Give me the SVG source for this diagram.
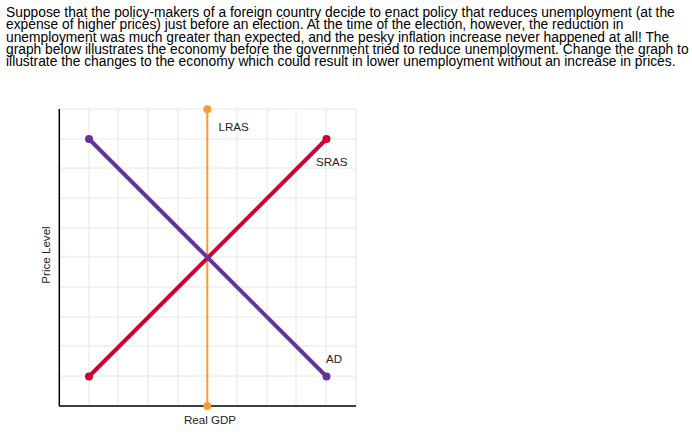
<svg xmlns="http://www.w3.org/2000/svg" width="692" height="448" viewBox="0 0 692 448">
<style>
.q{font-family:"Liberation Sans",Arial,sans-serif;font-size:13.8px;fill:#000}
.lbl{font-family:"Liberation Sans",Arial,sans-serif;font-size:11.6px;fill:#222}
.grid line{stroke:#e6e6e6;stroke-width:1}
.ax{stroke:#000;stroke-width:1.5}
</style>
<rect width="692" height="448" fill="#fff"/>
<g id="question">
<text class="q" x="6" y="17">Suppose that the policy-makers of a foreign country decide to enact policy that reduces unemployment (at the</text>
<text class="q" x="6" y="29">expense of higher prices) just before an election. At the time of the election, however, the reduction in</text>
<text class="q" x="6" y="41.5">unemployment was much greater than expected, and the pesky inflation increase never happened at all! The</text>
<text class="q" x="6" y="54">graph below illustrates the economy before the government tried to reduce unemployment. Change the graph to</text>
<text class="q" x="6" y="66">illustrate the changes to the economy which could result in lower unemployment without an increase in prices.</text>
</g>
<g id="grid" class="grid">
<line x1="89" y1="109" x2="89" y2="406"/><line x1="118" y1="109" x2="118" y2="406"/><line x1="148" y1="109" x2="148" y2="406"/><line x1="178" y1="109" x2="178" y2="406"/><line x1="207" y1="109" x2="207" y2="406"/><line x1="237" y1="109" x2="237" y2="406"/><line x1="267" y1="109" x2="267" y2="406"/><line x1="296" y1="109" x2="296" y2="406"/><line x1="326" y1="109" x2="326" y2="406"/><line x1="356" y1="109" x2="356" y2="406"/>
<line x1="59" y1="109" x2="356" y2="109"/><line x1="59" y1="139" x2="356" y2="139"/><line x1="59" y1="168" x2="356" y2="168"/><line x1="59" y1="198" x2="356" y2="198"/><line x1="59" y1="228" x2="356" y2="228"/><line x1="59" y1="257" x2="356" y2="257"/><line x1="59" y1="287" x2="356" y2="287"/><line x1="59" y1="317" x2="356" y2="317"/><line x1="59" y1="346" x2="356" y2="346"/><line x1="59" y1="376" x2="356" y2="376"/>
</g>
<g id="axes">
<line class="ax" x1="59.3" y1="109" x2="59.3" y2="406"/>
<line class="ax" x1="59" y1="406" x2="356" y2="406"/>
<text class="lbl" x="210" y="424" text-anchor="middle">Real GDP</text>
<text class="lbl" transform="translate(49.5,255) rotate(-90)" text-anchor="middle">Price Level</text>
</g>
<g id="connectors">
<g id="LRAS">
<line x1="207.3" y1="109.3" x2="207.3" y2="406" stroke="#ff9933" stroke-width="2"/>
<circle cx="207.3" cy="109.3" r="4" fill="#ff9933"/>
<circle cx="207.3" cy="406" r="4" fill="#ff9933"/>
<text class="lbl" x="218.5" y="131">LRAS</text>
</g>
<g id="SRAS">
<line x1="89" y1="376.5" x2="326.5" y2="139" stroke="#cc0033" stroke-width="4"/>
<circle cx="89" cy="376.5" r="4" fill="#cc0033"/>
<circle cx="326.5" cy="139" r="4" fill="#cc0033"/>
<text class="lbl" x="316" y="166">SRAS</text>
</g>
<g id="AD">
<line x1="89" y1="139" x2="326.5" y2="376.5" stroke="#663399" stroke-width="4"/>
<circle cx="89" cy="139" r="4" fill="#663399"/>
<circle cx="326.5" cy="376.5" r="4" fill="#663399"/>
<text class="lbl" x="326" y="363">AD</text>
</g>
</g>
</svg>
